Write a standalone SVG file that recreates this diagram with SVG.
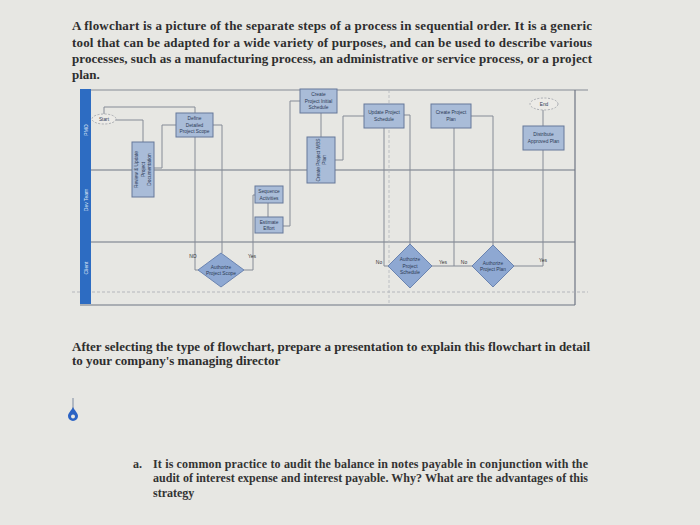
<svg xmlns="http://www.w3.org/2000/svg" width="700" height="525" viewBox="0 0 700 525">
<style>
.p{font-family:"Liberation Serif","Times New Roman",serif;font-weight:bold;font-size:13px;fill:#2e2e2e}
.q{font-family:"Liberation Serif","Times New Roman",serif;font-weight:bold;font-size:12px;fill:#333}
.box{fill:#a9bcd8;stroke:#66789a;stroke-width:1}
.dia{fill:#8ea8d2;stroke:#6b84b0;stroke-width:1}
.term{fill:#ecebe7;stroke:#9a9ea6;stroke-width:0.8;stroke-dasharray:2 1.5}
.t{font-family:"Liberation Sans",Arial,sans-serif;font-size:4.8px;fill:#2c3a55;text-anchor:middle}
.lbl{font-family:"Liberation Sans",Arial,sans-serif;font-size:5px;fill:#333;text-anchor:middle}
.lane{font-family:"Liberation Sans",Arial,sans-serif;font-size:5px;fill:#dfe8f7;text-anchor:middle}
.c{fill:none;stroke:#858b96;stroke-width:1}
.frame{fill:none;stroke:#6f7683;stroke-width:1.2}
</style>
<rect width="700" height="525" fill="#e7e7e3"/>

<g id="intro-text">
<text class="p" x="72" y="30" textLength="520">A flowchart is a picture of the separate steps of a process in sequential order. It is a generic</text>
<text class="p" x="72" y="47" textLength="520">tool that can be adapted for a wide variety of purposes, and can be used to describe various</text>
<text class="p" x="72" y="63" textLength="520">processes, such as a manufacturing process, an administrative or service process, or a project</text>
<text class="p" x="72" y="79">plan.</text>
</g>

<g id="frame">
<line class="frame" x1="80" y1="90" x2="588" y2="90" stroke-opacity="0.8"/>
<line class="frame" x1="575" y1="90" x2="575" y2="305"/>
<line class="frame" x1="80" y1="305" x2="575" y2="305"/>
<line class="frame" x1="91" y1="170" x2="575" y2="170" stroke-width="1"/>
<line class="frame" x1="91" y1="242" x2="575" y2="242" stroke-width="1"/>
<line x1="72" y1="292" x2="588" y2="292" stroke="#a9acb2" stroke-width="0.8" stroke-dasharray="3 2"/>
<line x1="389" y1="90" x2="389" y2="305" stroke="#b3b6bb" stroke-width="0.8" stroke-dasharray="3 2"/>
<rect x="80" y="89" width="11" height="215" fill="#2d6cc2"/>
<text class="lane" transform="translate(87.5 130) rotate(-90)">PMO</text>
<text class="lane" transform="translate(87.5 200) rotate(-90)">Dev Team</text>
<text class="lane" transform="translate(87.5 268) rotate(-90)">Client</text>
</g>

<g id="connectors">
<path class="c" d="M104,114 V107 H195 V113"/>
<path class="c" d="M116,120 H143 V142"/>
<path class="c" d="M154,168 H162 V125 H176"/>
<path class="c" d="M195,137 V270 H198"/>
<path class="c" d="M213,125 H222 V253"/>
<path class="c" d="M244,270 H253 V195 H255"/>
<path class="c" d="M268,203 V217"/>
<path class="c" d="M283,226 H290 V101 H300"/>
<path class="c" d="M321,113 V137"/>
<path class="c" d="M335,160 H343 V116 H364"/>
<path class="c" d="M384,128 V266 H388"/>
<path class="c" d="M404,115 H410 V244"/>
<path class="c" d="M432,266 H454 V128"/>
<path class="c" d="M472,266 H454"/>
<path class="c" d="M471,116 H493 V245"/>
<path class="c" d="M514,266 H543 V150"/>
<path class="c" d="M543,126 V110"/>
<text class="lbl" x="193" y="258">NO</text>
<text class="lbl" x="252" y="258">Yes</text>
<text class="lbl" x="379" y="264">No</text>
<text class="lbl" x="443" y="264">Yes</text>
<text class="lbl" x="464" y="264">No</text>
<text class="lbl" x="543" y="262">Yes</text>
</g>

<g id="start">
<ellipse class="term" cx="104" cy="119" rx="12" ry="5"/>
<text class="t" x="104" y="120.7">Start</text>
</g>
<g id="define-scope">
<rect class="box" x="176" y="113" width="37" height="24"/>
<text class="t" x="194.5" y="120">Define</text>
<text class="t" x="194.5" y="126.5">Detailed</text>
<text class="t" x="194.5" y="133">Project Scope</text>
</g>
<g id="review-docs">
<rect class="box" x="132" y="142" width="22" height="55"/>
<text class="t" transform="translate(143 169.5) rotate(-90)"><tspan x="0" y="-5">Review &amp; Update</tspan><tspan x="0" y="1.5">Project</tspan><tspan x="0" y="8">Documentation</tspan></text>
</g>
<g id="initial-schedule">
<rect class="box" x="300" y="89" width="37" height="24"/>
<text class="t" x="318.5" y="96">Create</text>
<text class="t" x="318.5" y="102.5">Project Initial</text>
<text class="t" x="318.5" y="109">Schedule</text>
</g>
<g id="wbs">
<rect class="box" x="307" y="137" width="28" height="46"/>
<text class="t" transform="translate(321 160) rotate(-90)"><tspan x="0" y="-1.5">Create Project WBS</tspan><tspan x="0" y="5">Plan</tspan></text>
</g>
<g id="sequence">
<rect class="box" x="255" y="186" width="28" height="17"/>
<text class="t" x="269" y="193">Sequence</text>
<text class="t" x="269" y="199.5">Activities</text>
</g>
<g id="estimate">
<rect class="box" x="255" y="217" width="28" height="16"/>
<text class="t" x="269" y="223.5">Estimate</text>
<text class="t" x="269" y="230">Effort</text>
</g>
<g id="update-schedule">
<rect class="box" x="364" y="104" width="40" height="24"/>
<text class="t" x="384" y="114">Update Project</text>
<text class="t" x="384" y="120.5">Schedule</text>
</g>
<g id="create-plan">
<rect class="box" x="431" y="104" width="40" height="24"/>
<text class="t" x="451" y="114">Create Project</text>
<text class="t" x="451" y="120.5">Plan</text>
</g>
<g id="distribute">
<rect class="box" x="523" y="126" width="41" height="24"/>
<text class="t" x="543.5" y="136">Distribute</text>
<text class="t" x="543.5" y="142.5">Approved Plan</text>
</g>
<g id="end">
<ellipse class="term" cx="544" cy="104" rx="14" ry="6"/>
<text class="t" x="544" y="105.7">End</text>
</g>
<g id="authorize-scope">
<polygon class="dia" points="221,253 244,270 221,287 198,270"/>
<text class="t" x="221" y="268.5">Authorize</text>
<text class="t" x="221" y="275">Project Scope</text>
</g>
<g id="authorize-schedule">
<polygon class="dia" points="410,244 432,266 410,288 388,266"/>
<text class="t" x="410" y="261">Authorize</text>
<text class="t" x="410" y="267.5">Project</text>
<text class="t" x="410" y="274">Schedule</text>
</g>
<g id="authorize-plan">
<polygon class="dia" points="493,245 514,266 493,287 472,266"/>
<text class="t" x="493" y="264.5">Authorize</text>
<text class="t" x="493" y="271">Project Plan</text>
</g>

<g id="question-text">
<text class="p" x="72" y="351" textLength="518">After selecting the type of flowchart, prepare a presentation to explain this flowchart in detail</text>
<text class="p" x="72" y="365">to your company's managing director</text>
<text class="q" x="133" y="468">a.</text>
<text class="q" x="153" y="468" textLength="435">It is common practice to audit the balance in notes payable in conjunction with the</text>
<text class="q" x="153" y="482" textLength="435">audit of interest expense and interest payable. Why? What are the advantages of this</text>
<text class="q" x="153" y="497">strategy</text>
</g>

<g id="pin">
<line x1="73" y1="398" x2="73" y2="409" stroke="#7d8aa0" stroke-width="1"/>
<path d="M73,407 C75,411 78,413 78,416 A5,5 0 1 1 68,416 C68,413 71,411 73,407 Z" fill="#2b63c4"/>
<circle cx="73" cy="416.5" r="2" fill="#e7e7e3"/>
</g>
</svg>
